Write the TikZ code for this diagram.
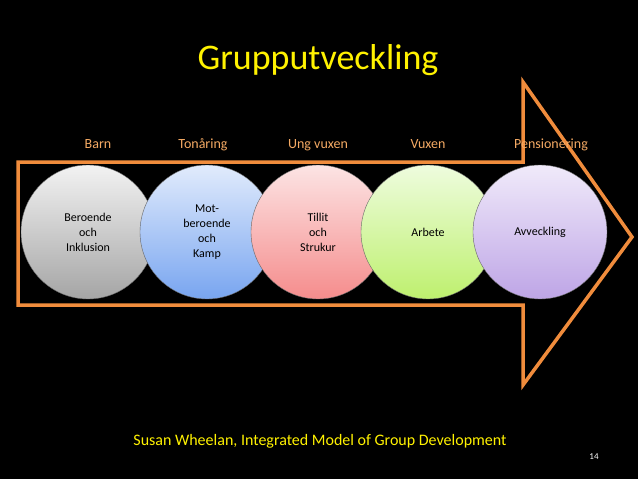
\documentclass[tikz,border=0pt]{standalone}
\usepackage{fontspec}
\setmainfont{Carlito}
\begin{document}
\begin{tikzpicture}[x=1pt,y=-1pt,
  circ/.style={circle,minimum size=134pt,inner sep=0pt,draw=black!60,line width=0.4pt,align=center,font=\fontsize{12}{15}\selectfont},
  lab/.style={anchor=base,text={rgb,255:red,245;green,170;blue,100},font=\fontsize{14}{16}\selectfont}]
\useasboundingbox[fill=black] (0,0) rectangle (638,479);
\node[text=yellow,font=\fontsize{36}{40}\selectfont] (t) at (318,60) {Grupputveckling};
\draw[draw={rgb,255:red,240;green,140;blue,60},line width=3.5pt,line join=miter]
 (18,162) -- (523,162) -- (523,82) -- (632,237) -- (523,385) -- (523,305) -- (18,305) -- cycle;
\foreach \n/\x/\tx in {l1/98/Barn,l2/203/Tonåring,l3/318/Ung vuxen,l4/428/Vuxen,l5/551/Pensionering}
  \node[lab] (\n) at (\x,148) {\tx};
\node[circ,top color=black!5,bottom color={rgb,255:red,165;green,165;blue,165}] (c1) at (88,232) {Beroende\\och\\Inklusion};
\node[circ,top color={rgb,255:red,225;green,235;blue,252},bottom color={rgb,255:red,120;green,165;blue,240}] (c2) at (207,232) {Mot-\\beroende\\och\\Kamp};
\node[circ,top color={rgb,255:red,252;green,228;blue,228},bottom color={rgb,255:red,245;green,140;blue,140}] (c3) at (318,232) {Tillit\\och\\Strukur};
\node[circ,top color={rgb,255:red,238;green,252;blue,222},bottom color={rgb,255:red,190;green,240;blue,110}] (c4) at (428,232) {Arbete};
\node[circ,top color={rgb,255:red,240;green,234;blue,250},bottom color={rgb,255:red,190;green,165;blue,230}] (c5) at (540,232) {Avveckling};
\node[text=yellow,font=\fontsize{16}{19}\selectfont] (f) at (320,441) {Susan Wheelan, Integrated Model of Group Development};
\node[text=white,font=\fontsize{9}{11}\selectfont] (p) at (594,457) {14};
\end{tikzpicture}
\end{document}
